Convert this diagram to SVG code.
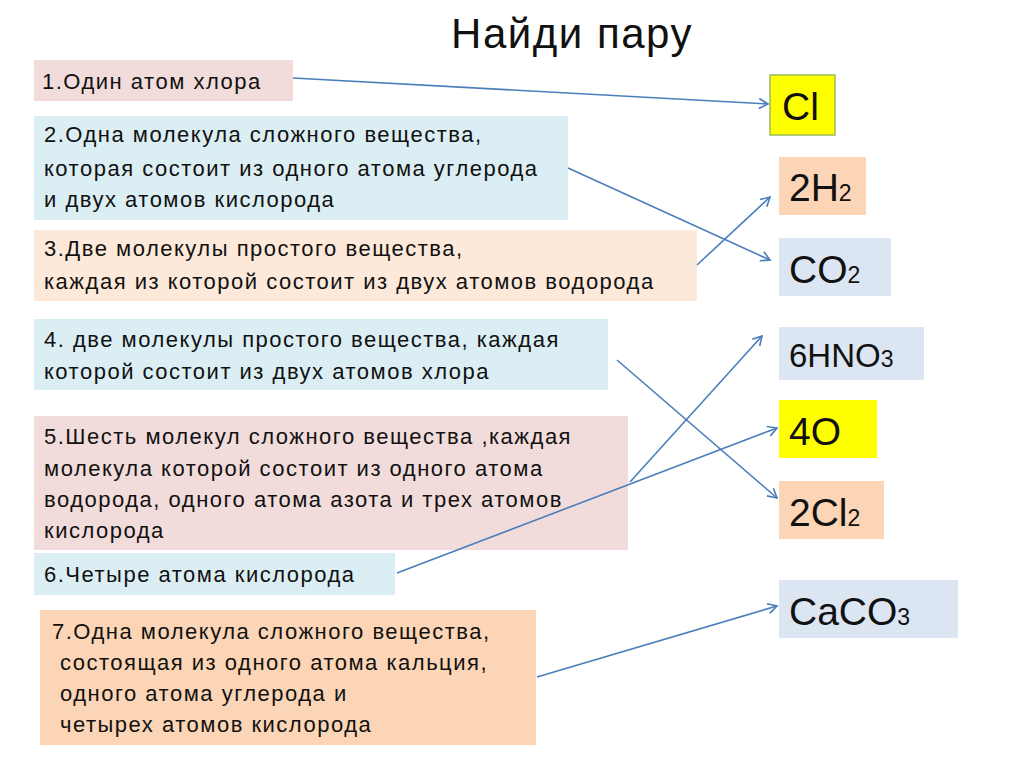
<svg xmlns="http://www.w3.org/2000/svg" width="1024" height="767" viewBox="0 0 1024 767" xml:space="preserve">
<style>
text{font-family:"Liberation Sans",Arial,sans-serif;fill:#111}
.t{font-size:22px;letter-spacing:1.5px}
.f{font-size:39px}
.s{font-size:23px}
.c line{stroke:#4a7ebb;stroke-width:1.6;marker-end:url(#a)}
</style>
<defs><marker id="a" markerWidth="12" markerHeight="12" refX="10" refY="6" orient="auto" markerUnits="userSpaceOnUse"><path d="M1,1 L10,6 L1,11" fill="none" stroke="#4a7ebb" stroke-width="1.6"/></marker></defs>
<rect width="1024" height="767" fill="#fff"/>
<text x="572" y="48" text-anchor="middle" style="font-size:42px;letter-spacing:1.5px">Найди пару</text>
<g id="n1"><rect x="34" y="60" width="259" height="41" fill="#f2dcdb"/><text class="t" x="42" y="89">1.Один атом хлора</text></g>
<g id="n2"><rect x="34" y="116" width="534" height="104" fill="#dbeef4"/><text class="t" x="44" y="142">2.Одна молекула сложного вещества,</text><text class="t" x="44" y="176">которая состоит из одного атома углерода</text><text class="t" x="44" y="207"> и двух атомов кислорода</text></g>
<g id="n3"><rect x="34" y="230" width="663" height="71" fill="#fde9d9"/><text class="t" x="44" y="256">3.Две молекулы простого вещества,</text><text class="t" x="44" y="289">каждая из которой состоит из двух атомов водорода</text></g>
<g id="n4"><rect x="34" y="319" width="574" height="71" fill="#dbeef4"/><text class="t" x="44" y="347">4. две молекулы простого вещества, каждая</text><text class="t" x="44" y="379">которой состоит  из двух атомов хлора</text></g>
<g id="n5"><rect x="34" y="416" width="594" height="134" fill="#f2dcdb"/><text class="t" x="44" y="444">5.Шесть молекул сложного вещества ,каждая</text><text class="t" x="44" y="476">молекула которой состоит из одного атома</text><text class="t" x="44" y="507">водорода, одного атома азота и трех атомов</text><text class="t" x="44" y="538">кислорода</text></g>
<g id="n6"><rect x="34" y="553" width="361" height="42" fill="#dbeef4"/><text class="t" x="44" y="582">6.Четыре атома кислорода</text></g>
<g id="n7"><rect x="40" y="610" width="496" height="135" fill="#fbd5b5"/><text class="t" x="52" y="639">7.Одна молекула сложного вещества,</text><text class="t" x="60" y="670">состоящая из одного атома кальция,</text><text class="t" x="60" y="701">одного атома углерода и</text><text class="t" x="60" y="732">четырех атомов  кислорода</text></g>
<g id="r1"><rect x="770" y="75" width="65" height="60" fill="#ffff00" stroke="#9bbb59" stroke-width="1.5"/><text class="f" x="782" y="120">Cl</text></g>
<g id="r2"><rect x="779" y="157" width="87" height="58" fill="#fbd5b5"/><text class="f" x="789" y="201">2H<tspan class="s">2</tspan></text></g>
<g id="r3"><rect x="779" y="238" width="112" height="58" fill="#dce6f2"/><text class="f" x="789" y="283">CO<tspan class="s">2</tspan></text></g>
<g id="r4"><rect x="779" y="327" width="145" height="53" fill="#dce6f2"/><text class="f" x="789" y="367" style="font-size:33px">6HNO<tspan class="s">3</tspan></text></g>
<g id="r5"><rect x="779" y="400" width="98" height="58" fill="#ffff00"/><text class="f" x="789" y="445">4O</text></g>
<g id="r6"><rect x="779" y="481" width="105" height="58" fill="#fbd5b5"/><text class="f" x="789" y="526">2Cl<tspan class="s">2</tspan></text></g>
<g id="r7"><rect x="779" y="580" width="179" height="58" fill="#dce6f2"/><text class="f" x="789" y="625">CaCO<tspan class="s">3</tspan></text></g>
<g id="connectors" class="c">
<line x1="293" y1="78" x2="768" y2="104"/>
<line x1="568" y1="168" x2="770" y2="260"/>
<line x1="697" y1="265" x2="770" y2="197"/>
<line x1="617" y1="360" x2="777" y2="498"/>
<line x1="630" y1="482" x2="762" y2="336"/>
<line x1="397" y1="573" x2="777" y2="428"/>
<line x1="537" y1="677" x2="777" y2="606"/>
</g>
</svg>
